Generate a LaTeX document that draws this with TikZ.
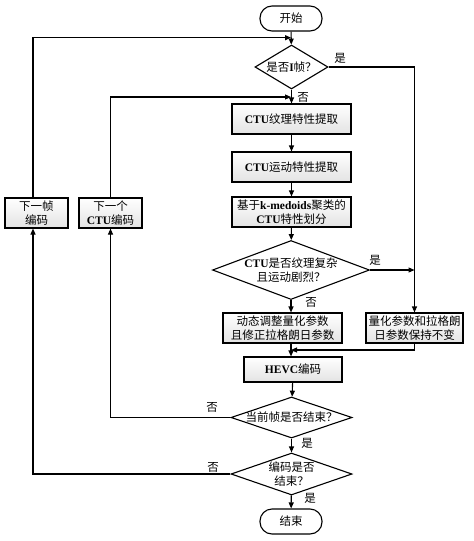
\documentclass[tikz,border=0pt]{standalone}
\usepackage{fontspec}
\setmainfont{Liberation Serif}
\newfontfamily\zhfont{Noto Sans CJK SC}
\newcommand{\zh}[1]{{\zhfont\mdseries #1}}
\usetikzlibrary{arrows.meta,shapes.geometric,shadows}

\begin{document}
\begin{tikzpicture}
  [x=1pt,y=-1pt,line width=1.1pt,>={Triangle[length=6pt,width=5pt]},
   every node/.style={font=\fontsize{11.5}{14.5}\selectfont},
   term/.style={draw,rounded corners=12pt,fill=white,minimum width=62pt,minimum height=25pt,inner sep=0pt},
   box/.style={draw,top color=white,bottom color=gray!22,align=center,inner sep=0pt,
     minimum height=30pt,font=\fontsize{11.5}{14.5}\selectfont\bfseries,
     drop shadow={opacity=.25,shadow xshift=1pt,shadow yshift=-1pt}},
   dia/.style={draw,diamond,fill=white,inner sep=0pt},
   dtext/.style={align=center,font=\fontsize{11.5}{14.5}\selectfont\bfseries},
   lbl/.style={inner sep=0pt}]
  \useasboundingbox (0,0) rectangle (474,541);

  % main column
  \node[term] (start) at (291,18.5) {\zh{开始}};
  \node[dia,minimum width=73pt,minimum height=44pt,label={[dtext]center:\zh{是否}I\zh{帧？}}] (d1) at (291.5,67) {};
  \node[box,minimum width=119pt] (b1) at (291.5,119) {CTU\zh{纹理特性提取}};
  \node[box,minimum width=119pt] (b2) at (291.5,167) {CTU\zh{运动特性提取}};
  \node[box,minimum width=119pt] (b3) at (291.5,212) {\zh{基于}k-medoids\zh{聚类的}\\CTU\zh{特性划分}};
  \node[dia,minimum width=157pt,minimum height=59pt,label={[dtext]center:CTU\zh{是否纹理复杂}\\\zh{且运动剧烈？}}] (d2) at (291,270) {};
  \node[box,minimum width=119pt] (b4) at (282.5,328) {\zh{动态调整量化参数}\\\zh{且修正拉格朗日参数}};
  \node[box,minimum width=97pt] (b5) at (414.5,328) {\zh{量化参数和拉格朗}\\\zh{日参数保持不变}};
  \node[box,minimum width=98pt,minimum height=25pt] (hevc) at (293,369.5) {HEVC\zh{编码}};
  \node[dia,minimum width=121pt,minimum height=41pt,label={[dtext]center:\zh{当前帧是否结束？}}] (d3) at (291.5,417.5) {};
  \node[dia,minimum width=121pt,minimum height=42pt,label={[dtext]center:\zh{编码是否}\\\zh{结束？}}] (d4) at (291.5,474) {};
  \node[term] (end) at (291,521.5) {\zh{结束}};

  % loop boxes
  \node[box,minimum width=63pt] (nf) at (36.5,213) {\zh{下一帧}\\\zh{编码}};
  \node[box,minimum width=63pt] (nc) at (110.5,213) {\zh{下一个}\\CTU\zh{编码}};

  \coordinate (j1) at (291,37.7);
  \coordinate (j2) at (291,97);
  \coordinate (j3) at (291,350);

  % connectors
  \draw[->] (start) -- (d1);
  \draw[->] (d1) -- (b1);
  \draw[->] (b1) -- (b2);
  \draw[->] (b2) -- (b3);
  \draw[->] (b3) -- (d2);
  \draw[->] (d2.south) -- (d2.south |- b4.north);
  \draw[->] (d2.south |- b4.south) -- (d2.south |- hevc.north);
  \draw[->] (d1.east) -| (b5.north);
  \draw[->] (d2.east) -- (b5.north |- d2.east);
  \draw[->] (b5.south) |- (j3);
  \draw[->] (hevc) -- (d3);
  \draw[->] (d3) -- (d4);
  \draw[->] (d4) -- (end);
  \draw[->] (d3.west) -| (nc.south);
  \draw[->] (nc.north) |- (j2);
  \draw[->] (d4.west) -| (33,0 |- nf.south);
  \draw[->] (33,0 |- nf.north) |- (j1);

  % labels
  \node[lbl] (y1) at (340,58) {\zh{是}};
  \node[lbl] (n1) at (303,97) {\zh{否}};
  \node[lbl] (y2) at (375,260) {\zh{是}};
  \node[lbl] (n2) at (311,302) {\zh{否}};
  \node[lbl] (n3) at (212,407) {\zh{否}};
  \node[lbl] (y3) at (307,443) {\zh{是}};
  \node[lbl] (n4) at (213,467) {\zh{否}};
  \node[lbl] (y4) at (310,498) {\zh{是}};
\end{tikzpicture}
\end{document}
